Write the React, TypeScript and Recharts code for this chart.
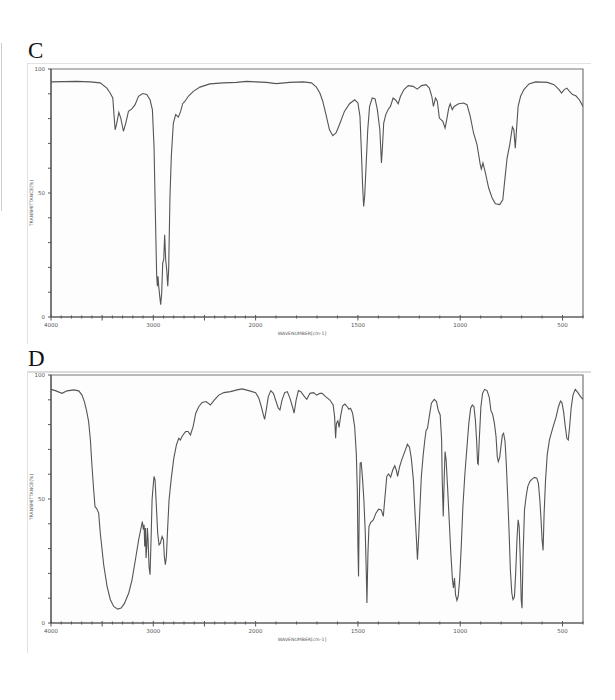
import React from 'react';
import { LineChart, Line, XAxis, YAxis, ReferenceArea } from 'recharts';

// ---- Spectrum C ----
const cWavenumbers = [
  4000, 3877, 3747, 3617, 3519, 3454, 3422, 3396, 3383, 3373, 3357, 3337, 3318, 3292, 3269, 3243, 3210, 3178, 3145, 3103,
  3064, 3032, 3009, 2993, 2980, 2967, 2960, 2954, 2947, 2937, 2928, 2918, 2908, 2898, 2889, 2879, 2869, 2859, 2850, 2837,
  2824, 2804, 2781, 2755, 2733, 2713, 2690, 2658, 2609, 2544, 2447, 2317, 2187, 2089, 2000, 1948, 1899, 1833, 1768, 1727,
  1703, 1686, 1672, 1656, 1639, 1623, 1607, 1590, 1566, 1541, 1516, 1500, 1490, 1484, 1477, 1472, 1467, 1461, 1452, 1443,
  1430, 1416, 1405, 1393, 1385, 1380, 1374, 1364, 1351, 1341, 1328, 1315, 1303, 1292, 1275, 1254, 1230, 1210, 1189, 1167,
  1151, 1139, 1131, 1121, 1112, 1102, 1085, 1074, 1066, 1056, 1049, 1039, 1030, 1008, 984, 967, 951, 935, 918, 902,
  897, 889, 877, 861, 844, 828, 807, 792, 782, 771, 758, 745, 738, 731, 725, 717, 705, 689, 664, 631,
  574, 541, 517, 505, 492, 479, 466, 451, 435, 418, 400,
];
const cTransmittance = [
  94.8, 94.9, 95.0, 94.8, 94.4, 92.3, 90.3, 88.3, 80.9, 75.5, 78.2, 82.5, 80.2, 74.9, 78.2, 82.9, 83.9, 85.6, 89.0, 90.1,
  89.7, 87.6, 83.6, 68.8, 41.9, 16.4, 12.4, 16.4, 12.4, 8.3, 5.0, 9.7, 21.8, 23.1, 33.2, 23.1, 19.1, 12.4, 19.1, 48.7,
  64.8, 78.2, 81.6, 80.6, 82.9, 86.0, 87.0, 89.0, 91.0, 92.7, 94.0, 94.4, 94.6, 95.0, 94.8, 94.6, 94.1, 94.6, 94.8, 94.4,
  92.7, 90.3, 87.0, 81.6, 75.5, 73.1, 74.2, 77.6, 82.9, 86.0, 87.6, 86.3, 80.9, 68.8, 52.7, 44.6, 48.7, 59.4, 75.5, 84.9,
  88.3, 87.9, 83.6, 75.5, 62.1, 68.8, 78.2, 81.6, 83.9, 84.9, 88.3, 87.4, 86.0, 89.0, 91.7, 93.3, 93.0, 91.9, 93.3, 93.7,
  92.3, 89.0, 84.9, 88.3, 87.0, 80.2, 78.9, 76.2, 79.6, 84.3, 86.0, 83.6, 84.9, 86.0, 86.3, 85.6, 80.9, 74.2, 69.5, 61.4,
  59.7, 62.1, 58.1, 52.0, 48.0, 45.7, 45.3, 47.3, 55.4, 64.1, 69.5, 76.6, 75.5, 68.1, 75.5, 84.9, 89.0, 91.7, 94.0, 94.8,
  94.6, 93.7, 91.7, 90.3, 91.7, 92.3, 91.0, 89.7, 89.2, 87.6, 84.9,
];

// ---- Spectrum D ----
const dWavenumbers = [
  4000, 3958, 3892, 3843, 3778, 3729, 3697, 3674, 3654, 3632, 3615, 3599, 3583, 3570, 3550, 3534, 3518, 3485, 3452, 3420,
  3387, 3348, 3315, 3283, 3240, 3208, 3175, 3143, 3120, 3107, 3097, 3090, 3084, 3077, 3071, 3064, 3058, 3051, 3042, 3032,
  3022, 3012, 3002, 2993, 2983, 2970, 2957, 2944, 2931, 2914, 2901, 2892, 2882, 2872, 2859, 2846, 2826, 2800, 2774, 2751,
  2735, 2719, 2703, 2683, 2660, 2637, 2611, 2585, 2556, 2523, 2484, 2442, 2409, 2360, 2311, 2246, 2181, 2132, 2067, 2000,
  1984, 1972, 1962, 1956, 1948, 1938, 1926, 1913, 1900, 1889, 1881, 1871, 1858, 1845, 1832, 1820, 1812, 1802, 1791, 1779,
  1763, 1750, 1734, 1717, 1701, 1685, 1675, 1658, 1637, 1621, 1614, 1609, 1605, 1598, 1592, 1585, 1575, 1564, 1552, 1544,
  1536, 1526, 1516, 1508, 1503, 1500, 1497, 1493, 1489, 1484, 1477, 1471, 1464, 1459, 1456, 1451, 1446, 1438, 1425, 1412,
  1399, 1386, 1376, 1369, 1359, 1350, 1340, 1330, 1320, 1312, 1306, 1297, 1286, 1271, 1258, 1248, 1239, 1229, 1221, 1214,
  1209, 1203, 1196, 1190, 1181, 1173, 1167, 1160, 1150, 1141, 1127, 1116, 1108, 1098, 1091, 1088, 1083, 1078, 1074, 1069,
  1062, 1054, 1046, 1038, 1033, 1028, 1023, 1016, 1010, 1003, 995, 987, 977, 967, 958, 949, 941, 933, 926, 920,
  915, 912, 907, 899, 891, 881, 869, 858, 850, 842, 833, 825, 819, 814, 807, 801, 794, 788, 781, 775,
  768, 761, 755, 748, 742, 735, 729, 722, 717, 712, 707, 702, 698, 693, 686, 678, 670, 660, 649, 637,
  626, 618, 611, 605, 600, 595, 590, 583, 575, 564, 547, 531, 520, 510, 503, 495, 487, 479, 472, 466,
  458, 449, 438, 425, 412, 400,
];
const dTransmittance = [
  94.2, 93.7, 92.6, 93.6, 94.0, 93.6, 91.9, 89.3, 85.9, 81.2, 73.8, 63.1, 53.7, 47.0, 45.9, 44.3, 36.2, 23.5, 14.8, 9.4,
  6.7, 5.6, 6.0, 7.8, 12.1, 17.4, 25.5, 33.6, 38.3, 40.9, 37.6, 39.6, 30.9, 38.3, 26.2, 30.9, 38.3, 33.6, 22.8, 19.5,
  33.6, 49.7, 55.0, 59.1, 57.7, 47.0, 36.2, 31.5, 32.2, 34.9, 33.6, 26.8, 23.5, 26.8, 38.9, 49.7, 57.7, 66.4, 71.8, 74.5,
  73.8, 75.2, 76.2, 77.2, 77.2, 75.8, 79.2, 84.6, 87.2, 88.9, 89.3, 87.9, 89.7, 91.9, 92.9, 93.3, 94.0, 94.4, 93.7, 92.9,
  90.6, 87.2, 83.9, 82.1, 85.9, 91.3, 93.7, 92.6, 89.3, 86.6, 85.9, 89.9, 92.9, 93.3, 90.6, 87.2, 84.6, 89.9, 93.7, 93.3,
  91.5, 90.2, 92.6, 92.9, 91.9, 92.6, 92.6, 91.3, 89.9, 87.9, 83.2, 74.5, 80.5, 81.5, 78.9, 83.2, 87.5, 88.3, 87.2, 86.2,
  86.6, 84.6, 79.2, 68.5, 53.7, 30.9, 18.8, 49.7, 64.4, 64.7, 57.7, 49.7, 36.2, 20.1, 8.1, 28.2, 38.9, 40.5, 41.6, 44.3,
  45.9, 45.6, 43.0, 49.7, 59.1, 60.1, 58.8, 61.7, 63.4, 61.5, 59.1, 62.8, 65.8, 69.1, 72.1, 70.9, 66.4, 57.7, 44.3, 33.6,
  25.5, 34.9, 48.3, 59.1, 67.8, 73.8, 77.6, 78.5, 83.9, 88.6, 90.2, 89.3, 85.9, 83.9, 73.8, 57.7, 43.0, 59.1, 69.1, 65.8,
  55.0, 41.6, 28.2, 17.4, 14.1, 18.1, 11.4, 9.1, 10.7, 17.4, 30.9, 47.0, 60.4, 71.1, 80.5, 86.6, 87.9, 87.2, 81.9, 73.8,
  64.4, 64.0, 73.8, 87.2, 92.6, 94.2, 93.7, 91.0, 85.6, 84.3, 80.5, 75.2, 67.1, 65.1, 66.8, 71.1, 75.8, 76.5, 73.2, 64.4,
  51.0, 36.2, 21.5, 12.1, 9.4, 10.5, 20.1, 34.9, 41.6, 38.9, 26.8, 9.4, 6.0, 26.8, 45.6, 51.0, 55.0, 57.0, 58.0, 58.7,
  58.4, 56.4, 49.7, 41.6, 33.6, 29.3, 44.3, 57.7, 67.8, 73.8, 78.9, 83.2, 87.2, 89.5, 88.9, 85.2, 79.5, 74.5, 73.8, 78.5,
  86.6, 91.9, 94.2, 92.9, 91.3, 90.2,
];

// ---- Axis ticks ----
const xTickWavenumbers = Array.from({ length: 37 }, (_, i) => 4000 - i * 100);
const xLabeledWavenumbers = [4000, 3000, 2000, 1500, 1000, 500];
const yTickValues = [0, 10, 20, 30, 40, 50, 60, 70, 80, 90, 100];
const yLabeledValues = [0, 50, 100];

// Spectrometer abscissa: scale doubles below 2000 cm-1
const toU = (wn: number) => (wn >= 2000 ? (4000 - wn) / 2 : 1000 + (2000 - wn));
const fromU = (u: number) => (u <= 1000 ? 4000 - 2 * u : 2000 - (u - 1000));

const buildData = (wns: number[], ts: number[]) => wns.map((w, i) => ({ u: toU(w), t: ts[i] }));
const cData = buildData(cWavenumbers, cTransmittance);
const dData = buildData(dWavenumbers, dTransmittance);
const xTicks = xTickWavenumbers.map(toU);

const AXIS = '#555';

const XTick = (props: any) => {
  const { x, y, payload } = props;
  const wn = Math.round(fromU(payload.value));
  const major = wn % 500 === 0;
  const labeled = xLabeledWavenumbers.includes(wn);
  return (
    <g>
      <line x1={x} x2={x} y1={y - (major ? 2 : 1.5)} y2={y + (major ? 3.5 : 1.5)} stroke={AXIS} strokeWidth={1} />
      {labeled && (
        <text x={x} y={y + 10} textAnchor="middle" fontSize={5.5} fontFamily="DejaVu Sans" fill="#555">
          {wn}
        </text>
      )}
    </g>
  );
};

const YTick = (props: any) => {
  const { x, y, payload } = props;
  const v = payload.value;
  const labeled = yLabeledValues.includes(v);
  return (
    <g>
      <line x1={x - 3} x2={x} y1={y} y2={y} stroke={AXIS} strokeWidth={1} />
      {labeled && (
        <text x={x - 6} y={y + 2} textAnchor="end" fontSize={5.5} fontFamily="DejaVu Sans" fill="#555">
          {v}
        </text>
      )}
    </g>
  );
};

const Spectrum = ({ data, top }: { data: { u: number; t: number }[]; top: number }) => (
  <div style={{ position: 'absolute', left: 0, top }}>
    <LineChart width={615} height={300} data={data} margin={{ top: 29, right: 32, bottom: 3, left: 21 }}>
      <ReferenceArea x1={0} x2={2600} y1={0} y2={100} fill="#fdfdfd" fillOpacity={1} stroke="#777" strokeWidth={1.2} />
      <XAxis
        type="number"
        dataKey="u"
        domain={[0, 2600]}
        ticks={xTicks}
        interval={0}
        tickSize={0}
        tickMargin={0}
        tick={<XTick />}
        height={20}
        axisLine={{ stroke: AXIS, strokeWidth: 1.2 }}
        allowDataOverflow
      />
      <YAxis
        type="number"
        domain={[0, 100]}
        ticks={yTickValues}
        interval={0}
        tickSize={0}
        tickMargin={0}
        tick={<YTick />}
        width={30}
        axisLine={{ stroke: AXIS, strokeWidth: 1.2 }}
        allowDataOverflow
      />
      <Line
        type="linear"
        dataKey="t"
        stroke="#555"
        strokeWidth={1.1}
        dot={false}
        isAnimationActive={false}
      />
    </LineChart>
  </div>
);

const letterStyle: React.CSSProperties = {
  position: 'absolute',
  left: 28,
  fontFamily: '"Liberation Serif", "DejaVu Serif", serif',
  fontSize: 23,
  lineHeight: '23px',
  color: '#111',
};

const yTitleStyle = (cy: number): React.CSSProperties => ({
  position: 'absolute',
  left: 30.5,
  top: cy,
  transform: 'translate(-50%, -50%) rotate(-90deg)',
  fontFamily: 'DejaVu Sans',
  fontSize: 4.6,
  color: '#555',
  whiteSpace: 'nowrap',
  lineHeight: '5px',
});

const xTitleStyle = (top: number): React.CSSProperties => ({
  position: 'absolute',
  left: 302,
  top,
  transform: 'translate(-50%, -50%)',
  fontFamily: 'DejaVu Sans',
  fontSize: 4.6,
  color: '#555',
  whiteSpace: 'nowrap',
  lineHeight: '5px',
});

export default function App() {
  return (
    <div style={{ position: 'absolute', left: 0, top: 0, width: 615, height: 700, background: '#fff', overflow: 'hidden' }}>
      {/* cropped edge artifact at far left */}
      <div style={{ position: 'absolute', left: 1, top: 43, width: 1, height: 168, background: '#cfcfcf' }} />
      {/* outer frames of the scanned spectra */}
      <div style={{ position: 'absolute', left: 27, top: 63, width: 563, height: 280, borderLeft: '1px solid #e2e2e2', borderTop: '1px solid #e2e2e2' }} />
      <div style={{ position: 'absolute', left: 27, top: 371, width: 563, height: 280, borderLeft: '1px solid #e2e2e2', borderTop: '2px solid #dcdcdc' }} />

      <div style={{ ...letterStyle, top: 38.7 }}>C</div>
      <div style={{ ...letterStyle, top: 347.4 }}>D</div>

      <Spectrum data={cData} top={40} />
      <Spectrum data={dData} top={346} />

      <div style={yTitleStyle(203)}>TRANSMITTANCE(%)</div>
      <div style={yTitleStyle(497)}>TRANSMITTANCE(%)</div>
      <div style={xTitleStyle(333)}>WAVENUMBER[cm-1]</div>
      <div style={xTitleStyle(639)}>WAVENUMBER[cm-1]</div>
    </div>
  );
}
